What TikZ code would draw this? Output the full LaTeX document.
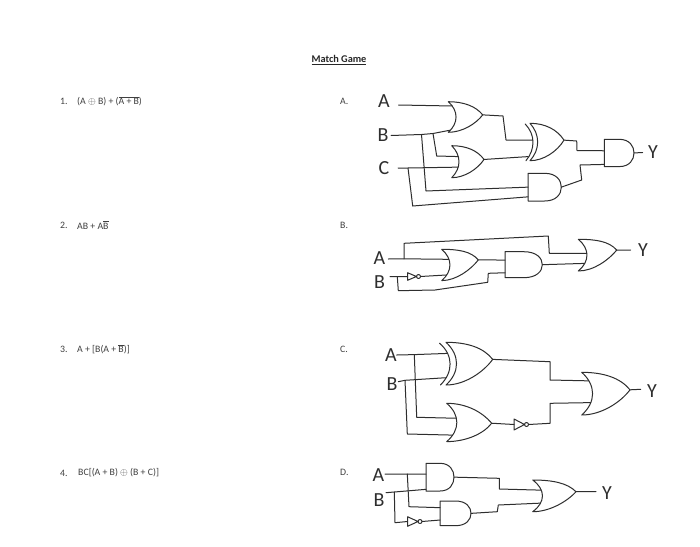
\documentclass[tikz,border=0pt]{standalone}
\usepackage{fontspec}
\setmainfont{Carlito}
\newcommand{\orshape}[1]{(0,0) .. controls (.45,0) and (.8,{#1-.28}) .. (1,#1) .. controls (.8,{#1+.3}) and (.4,1) .. (0,1) .. controls (.3,.7) and (.3,.3) .. cycle}
\newcommand{\orgate}[8]{\begin{scope}[shift={(#2,#3)},x=#4pt,y=-#5pt]
  \draw[pencil] \orshape{#8};
  \coordinate (#1-a) at ({.9*#6*(1-#6)},#6);
  \coordinate (#1-b) at ({.9*#7*(1-#7)},#7);
  \coordinate (#1-o) at (1,#8);
\end{scope}}
\newcommand{\xorgate}[8]{\begin{scope}[shift={(#2,#3)},x=#4pt,y=-#5pt]
  \draw[pencil] \orshape{#8};
  \draw[pencil] (-.14,.02) .. controls (.16,.3) and (.16,.7) .. (-.12,1);
  \coordinate (#1-a) at ({.9*#6*(1-#6)-.14},#6);
  \coordinate (#1-b) at ({.9*#7*(1-#7)-.14},#7);
  \coordinate (#1-o) at (1,#8);
\end{scope}}
\newcommand{\andgate}[7]{\begin{scope}[shift={(#2,#3)},x=#4pt,y=-#5pt]
  \draw[pencil] (0,0) -- (.5,0) .. controls (.85,0) and (1,.25) .. (1,.5) .. controls (1,.75) and (.85,1) .. (.5,1) -- (0,1) -- cycle;
  \coordinate (#1-a) at (0,#6);
  \coordinate (#1-b) at (0,#7);
  \coordinate (#1-o) at (1,.5);
\end{scope}}
\newcommand{\notgate}[5]{\begin{scope}[shift={(#2,#3)}]
  \draw[pencil] (0,-#5) -- (#4,0) -- (0,#5) -- cycle;
  \draw[pencil] (#4+2,0) circle (2);
  \coordinate (#1-i) at (0,0);
  \coordinate (#1-o) at (#4+4,0);
\end{scope}}
\begin{document}
\begin{tikzpicture}[x=1pt,y=-1pt,
  pencil/.style={draw=black!82,line width=1pt,line join=round,line cap=round},
  wire/.style={pencil},
  hand/.style={inner sep=0pt,text=black!82,font=\fontsize{20}{20}\selectfont},
  item/.style={inner sep=0pt,anchor=west,text=black!75,font=\fontsize{9.8}{11}\selectfont},
  head/.style={inner sep=0pt,text=black!85,font=\fontsize{10.3}{12}\selectfont\bfseries}]
\useasboundingbox (0,0) rectangle (700,546);
\fill[white] (0,0) rectangle (700,546);

% Text column
\node[head] (title) at (339,60) {\underline{Match Game}};
\node[item] (n1) at (60,101) {1.};
\node[item] (e1) at (77,101) {(A $\oplus$ B) + ($\overline{\mbox{A + B}}$)};
\node[item] (n2) at (60,225) {2.};
\node[item] (e2) at (77,225) {AB + A$\overline{\mbox{B}}$};
\node[item] (n3) at (60,349) {3.};
\node[item] (e3) at (77,349) {A + [B(A + $\overline{\mbox{B}}$)]};
\node[item] (n4) at (60,473) {4.};
\node[item] (e4) at (78,473) {BC[(A + B) $\oplus$ (B + C)]};
\node[item] (la) at (340,101) {A.};
\node[item] (lb) at (340,225) {B.};
\node[item] (lc) at (340,349) {C.};
\node[item] (ld) at (340,472) {D.};

% Circuit A
\node[hand] (aA) at (384,101) {A};
\node[hand] (aB) at (383,135) {B};
\node[hand] (aC) at (384,168) {C};
\node[hand] (aY) at (653,152) {Y};
\orgate{ag1}{448.3}{101.7}{34.4}{30.6}{.14}{.93}{.43}
\orgate{ag2}{451.7}{145.7}{32.3}{32}{.34}{.67}{.43}
\xorgate{ax}{530}{123.3}{34}{37.4}{.45}{.89}{.45}
\andgate{ag3}{528}{173.3}{33.3}{27.7}{.5}{.85}
\andgate{ag4}{604.3}{139.3}{29.7}{27.3}{.42}{.92}
\coordinate (aAs) at (398.5,105);
\coordinate (aBs) at (391,135.5);
\coordinate (aCs) at (398,168);
\coordinate (aJ1) at (421.5,134.5);
\coordinate (aJ2) at (433,133.5);
\coordinate (aJ3) at (408,168);
\draw[wire] (aAs) -- (ag1-a);
\draw[wire] (aBs) -- (aJ1) -- (aJ2) -- (ag1-b);
\draw[wire] (aJ2) -- (436.7,156) -- (ag2-a);
\draw[wire] (aCs) -- (aJ3) -- (ag2-b);
\draw[wire] (aJ1) -- (426,191) -- (ag3-a);
\draw[wire] (aJ3) -- (412.7,206) -- (ag3-b);
\draw[wire] (ag1-o) -- (503,116) -- (506,140) -- (ax-a);
\draw[wire] (ag2-o) -- (ax-b);
\draw[wire] (ax-o) -- (576.7,141) -- (577,150.5) -- (ag4-a);
\draw[wire] (ag3-o) -- (581.7,180) -- (580,165) -- (ag4-b);
\coordinate (aYs) at (642.7,152.5);
\draw[wire] (ag4-o) -- (aYs);

% Circuit B
\node[hand] (bA) at (379.5,258.5) {A};
\node[hand] (bB) at (379.5,282) {B};
\node[hand] (bY) at (643,250) {Y};
\orgate{bg1}{441.7}{249.3}{36.6}{31.3}{.32}{.82}{.34}
\andgate{bg2}{505}{251.7}{37.3}{26}{.32}{.81}
\orgate{bg3}{578.3}{239.3}{38.4}{31.7}{.44}{.76}{.34}
\notgate{bn}{407.5}{276.5}{9}{3.8}
\coordinate (bAs) at (388.3,259);
\coordinate (bBs) at (390,276.7);
\coordinate (bJ1) at (404,258.8);
\coordinate (bJ2) at (397.3,276.7);
\coordinate (bYs) at (630.7,250);
\draw[wire] (bAs) -- (bJ1) -- (bg1-a);
\draw[wire] (bJ1) -- (404,243.3) -- (548.3,236) -- (549.3,253.3) -- (bg3-a);
\draw[wire] (bBs) -- (bJ2) -- (bn-i);
\draw[wire] (bn-o) -- (bg1-b);
\draw[wire] (bJ2) -- (398.3,290.7) -- (435,290) -- (487.7,282.3) -- (488.3,273.3) -- (bg2-b);
\draw[wire] (bg1-o) -- (bg2-a);
\draw[wire] (bg2-o) -- (bg3-b);
\draw[wire] (bg3-o) -- (bYs);

% Circuit C
\node[hand] (cA) at (391,355) {A};
\node[hand] (cB) at (392,384) {B};
\node[hand] (cY) at (652,391) {Y};
\xorgate{cx}{446}{342.3}{46.7}{42.7}{.26}{.83}{.4}
\orgate{cg1}{446.7}{403.3}{45}{38.3}{.39}{.83}{.52}
\orgate{cg2}{581.7}{372.3}{48.3}{42.7}{.2}{.71}{.41}
\notgate{cn}{514}{424.5}{10.5}{5.5}
\coordinate (cAs) at (396.7,355);
\coordinate (cBs) at (398.3,381.7);
\coordinate (cJ1) at (414.3,354.6);
\coordinate (cJ2) at (405,380.3);
\coordinate (cYs) at (640.7,389.3);
\draw[wire] (cAs) -- (cJ1) -- (cx-a);
\draw[wire] (cBs) -- (cJ2) -- (cx-b);
\draw[wire] (cJ1) -- (416.7,417.3) -- (cg1-a);
\draw[wire] (cJ2) -- (407.3,434) -- (cg1-b);
\draw[wire] (cx-o) -- (550,361.7) -- (550,380) -- (cg2-a);
\draw[wire] (cg1-o) -- (cn-i);
\draw[wire] (cn-o) -- (550,423.3) -- (550,403.3) -- (cg2-b);
\draw[wire] (cg2-o) -- (cYs);

% Circuit D
\node[hand] (dA) at (378.5,475) {A};
\node[hand] (dB) at (379,500) {B};
\node[hand] (dY) at (607,493) {Y};
\andgate{dg1}{426}{463.3}{28}{27.7}{.39}{.94}
\andgate{dg2}{440}{501}{31}{24.7}{.27}{.77}
\orgate{dg3}{532.7}{480}{43.3}{31.7}{.32}{.73}{.37}
\notgate{dn}{407.5}{521.5}{10.5}{4.8}
\coordinate (dAs) at (385,474);
\coordinate (dBs) at (386,492.7);
\coordinate (dJ1) at (407.3,474);
\coordinate (dJ2) at (394.3,492);
\coordinate (dYs) at (596,491.7);
\draw[wire] (dAs) -- (dJ1) -- (dg1-a);
\draw[wire] (dBs) -- (dJ2) -- (dg1-b);
\draw[wire] (dJ1) -- (409,506.7) -- (dg2-a);
\draw[wire] (dJ2) -- (395,522.7) -- (dn-i);
\draw[wire] (dn-o) -- (dg2-b);
\draw[wire] (dg1-o) -- (499.3,478.3) -- (499.3,489) -- (dg3-a);
\draw[wire] (dg2-o) -- (497.3,511.7) -- (498.3,505) -- (dg3-b);
\draw[wire] (dg3-o) -- (dYs);
\end{tikzpicture}
\end{document}
